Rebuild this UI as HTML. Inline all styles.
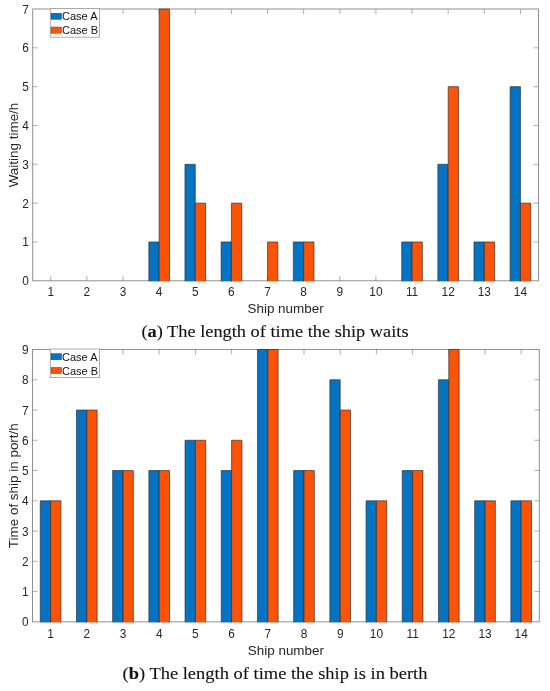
<!DOCTYPE html>
<html><head><meta charset="utf-8"><title>Figure</title>
<style>
html,body{margin:0;padding:0;background:#fff;}
body{width:550px;height:691px;overflow:hidden;position:relative;}
svg{position:absolute;left:0;top:0;display:block}
.t{font-family:"Liberation Sans",Arial,sans-serif;font-size:11.85px;fill:#262626;}
.b{font-size:13.45px}
.l{font-family:"Liberation Sans",Arial,sans-serif;font-size:11px;fill:#111;}
.cap{position:absolute;left:0;width:550px;text-align:center;font-family:"Liberation Serif","Times New Roman",serif;font-size:17px;color:#111;white-space:nowrap;line-height:20px;-webkit-text-stroke:0.1px #111;transform-origin:275px 0;}
</style></head><body>
<svg width="550" height="691" viewBox="0 0 550 691">
<rect x="32.70" y="9.00" width="505.80" height="271.80" fill="none" stroke="#858585" stroke-width="0.9"/>
<path d="M50.76 280.80v-5M50.76 9.00v5" stroke="#777" stroke-width="0.6"/>
<path d="M86.89 280.80v-5M86.89 9.00v5" stroke="#777" stroke-width="0.6"/>
<path d="M123.02 280.80v-5M123.02 9.00v5" stroke="#777" stroke-width="0.6"/>
<path d="M159.15 280.80v-5M159.15 9.00v5" stroke="#777" stroke-width="0.6"/>
<path d="M195.28 280.80v-5M195.28 9.00v5" stroke="#777" stroke-width="0.6"/>
<path d="M231.41 280.80v-5M231.41 9.00v5" stroke="#777" stroke-width="0.6"/>
<path d="M267.54 280.80v-5M267.54 9.00v5" stroke="#777" stroke-width="0.6"/>
<path d="M303.66 280.80v-5M303.66 9.00v5" stroke="#777" stroke-width="0.6"/>
<path d="M339.79 280.80v-5M339.79 9.00v5" stroke="#777" stroke-width="0.6"/>
<path d="M375.92 280.80v-5M375.92 9.00v5" stroke="#777" stroke-width="0.6"/>
<path d="M412.05 280.80v-5M412.05 9.00v5" stroke="#777" stroke-width="0.6"/>
<path d="M448.18 280.80v-5M448.18 9.00v5" stroke="#777" stroke-width="0.6"/>
<path d="M484.31 280.80v-5M484.31 9.00v5" stroke="#777" stroke-width="0.6"/>
<path d="M520.44 280.80v-5M520.44 9.00v5" stroke="#777" stroke-width="0.6"/>
<path d="M32.70 241.97h5M538.50 241.97h-5" stroke="#777" stroke-width="0.6"/>
<path d="M32.70 203.14h5M538.50 203.14h-5" stroke="#777" stroke-width="0.6"/>
<path d="M32.70 164.31h5M538.50 164.31h-5" stroke="#777" stroke-width="0.6"/>
<path d="M32.70 125.49h5M538.50 125.49h-5" stroke="#777" stroke-width="0.6"/>
<path d="M32.70 86.66h5M538.50 86.66h-5" stroke="#777" stroke-width="0.6"/>
<path d="M32.70 47.83h5M538.50 47.83h-5" stroke="#777" stroke-width="0.6"/>
<rect x="148.83" y="241.97" width="10.32" height="39.28" fill="#0473C3"/>
<path d="M148.83 281.25V241.97H159.15V281.25" fill="none" stroke="#2a2a2a" stroke-width="0.65"/>
<rect x="159.15" y="9.00" width="10.32" height="272.25" fill="#FB5409"/>
<path d="M159.15 281.25V9.00H169.47V281.25" fill="none" stroke="#2a2a2a" stroke-width="0.65"/>
<rect x="184.96" y="164.31" width="10.32" height="116.94" fill="#0473C3"/>
<path d="M184.96 281.25V164.31H195.28V281.25" fill="none" stroke="#2a2a2a" stroke-width="0.65"/>
<rect x="195.28" y="203.14" width="10.32" height="78.11" fill="#FB5409"/>
<path d="M195.28 281.25V203.14H205.60V281.25" fill="none" stroke="#2a2a2a" stroke-width="0.65"/>
<rect x="221.08" y="241.97" width="10.32" height="39.28" fill="#0473C3"/>
<path d="M221.08 281.25V241.97H231.41V281.25" fill="none" stroke="#2a2a2a" stroke-width="0.65"/>
<rect x="231.41" y="203.14" width="10.32" height="78.11" fill="#FB5409"/>
<path d="M231.41 281.25V203.14H241.73V281.25" fill="none" stroke="#2a2a2a" stroke-width="0.65"/>
<rect x="267.54" y="241.97" width="10.32" height="39.28" fill="#FB5409"/>
<path d="M267.54 281.25V241.97H277.86V281.25" fill="none" stroke="#2a2a2a" stroke-width="0.65"/>
<rect x="293.34" y="241.97" width="10.32" height="39.28" fill="#0473C3"/>
<path d="M293.34 281.25V241.97H303.66V281.25" fill="none" stroke="#2a2a2a" stroke-width="0.65"/>
<rect x="303.66" y="241.97" width="10.32" height="39.28" fill="#FB5409"/>
<path d="M303.66 281.25V241.97H313.99V281.25" fill="none" stroke="#2a2a2a" stroke-width="0.65"/>
<rect x="401.73" y="241.97" width="10.32" height="39.28" fill="#0473C3"/>
<path d="M401.73 281.25V241.97H412.05V281.25" fill="none" stroke="#2a2a2a" stroke-width="0.65"/>
<rect x="412.05" y="241.97" width="10.32" height="39.28" fill="#FB5409"/>
<path d="M412.05 281.25V241.97H422.37V281.25" fill="none" stroke="#2a2a2a" stroke-width="0.65"/>
<rect x="437.86" y="164.31" width="10.32" height="116.94" fill="#0473C3"/>
<path d="M437.86 281.25V164.31H448.18V281.25" fill="none" stroke="#2a2a2a" stroke-width="0.65"/>
<rect x="448.18" y="86.66" width="10.32" height="194.59" fill="#FB5409"/>
<path d="M448.18 281.25V86.66H458.50V281.25" fill="none" stroke="#2a2a2a" stroke-width="0.65"/>
<rect x="473.98" y="241.97" width="10.32" height="39.28" fill="#0473C3"/>
<path d="M473.98 281.25V241.97H484.31V281.25" fill="none" stroke="#2a2a2a" stroke-width="0.65"/>
<rect x="484.31" y="241.97" width="10.32" height="39.28" fill="#FB5409"/>
<path d="M484.31 281.25V241.97H494.63V281.25" fill="none" stroke="#2a2a2a" stroke-width="0.65"/>
<rect x="510.11" y="86.66" width="10.32" height="194.59" fill="#0473C3"/>
<path d="M510.11 281.25V86.66H520.44V281.25" fill="none" stroke="#2a2a2a" stroke-width="0.65"/>
<rect x="520.44" y="203.14" width="10.32" height="78.11" fill="#FB5409"/>
<path d="M520.44 281.25V203.14H530.76V281.25" fill="none" stroke="#2a2a2a" stroke-width="0.65"/>
<text x="50.76" y="295.90" text-anchor="middle" class="t">1</text>
<text x="86.89" y="295.90" text-anchor="middle" class="t">2</text>
<text x="123.02" y="295.90" text-anchor="middle" class="t">3</text>
<text x="159.15" y="295.90" text-anchor="middle" class="t">4</text>
<text x="195.28" y="295.90" text-anchor="middle" class="t">5</text>
<text x="231.41" y="295.90" text-anchor="middle" class="t">6</text>
<text x="267.54" y="295.90" text-anchor="middle" class="t">7</text>
<text x="303.66" y="295.90" text-anchor="middle" class="t">8</text>
<text x="339.79" y="295.90" text-anchor="middle" class="t">9</text>
<text x="375.92" y="295.90" text-anchor="middle" class="t">10</text>
<text x="412.05" y="295.90" text-anchor="middle" class="t">11</text>
<text x="448.18" y="295.90" text-anchor="middle" class="t">12</text>
<text x="484.31" y="295.90" text-anchor="middle" class="t">13</text>
<text x="520.44" y="295.90" text-anchor="middle" class="t">14</text>
<text x="28.90" y="285.30" text-anchor="end" class="t">0</text>
<text x="28.90" y="246.47" text-anchor="end" class="t">1</text>
<text x="28.90" y="207.64" text-anchor="end" class="t">2</text>
<text x="28.90" y="168.81" text-anchor="end" class="t">3</text>
<text x="28.90" y="129.99" text-anchor="end" class="t">4</text>
<text x="28.90" y="91.16" text-anchor="end" class="t">5</text>
<text x="28.90" y="52.33" text-anchor="end" class="t">6</text>
<text x="28.90" y="13.50" text-anchor="end" class="t">7</text>
<text x="285.60" y="312.90" text-anchor="middle" class="t b">Ship number</text>
<text transform="translate(18.1,145.00) rotate(-90)" text-anchor="middle" class="t b">Waiting time/h</text>
<rect x="50.3" y="8.6" width="49.3" height="28.6" fill="#fff" stroke="#9c9c9c" stroke-width="0.8"/>
<rect x="51.00" y="13.20" width="10.5" height="6.2" fill="#0473C3" stroke="#333" stroke-width="0.4"/>
<text x="62.00" y="20.40" class="l">Case A</text>
<rect x="51.00" y="27.00" width="10.5" height="6.2" fill="#FB5409" stroke="#333" stroke-width="0.4"/>
<text x="62.00" y="34.20" class="l">Case B</text>
<rect x="32.50" y="349.50" width="506.80" height="272.35" fill="none" stroke="#858585" stroke-width="0.9"/>
<path d="M50.60 621.85v-5M50.60 349.50v5" stroke="#777" stroke-width="0.6"/>
<path d="M86.80 621.85v-5M86.80 349.50v5" stroke="#777" stroke-width="0.6"/>
<path d="M123.00 621.85v-5M123.00 349.50v5" stroke="#777" stroke-width="0.6"/>
<path d="M159.20 621.85v-5M159.20 349.50v5" stroke="#777" stroke-width="0.6"/>
<path d="M195.40 621.85v-5M195.40 349.50v5" stroke="#777" stroke-width="0.6"/>
<path d="M231.60 621.85v-5M231.60 349.50v5" stroke="#777" stroke-width="0.6"/>
<path d="M267.80 621.85v-5M267.80 349.50v5" stroke="#777" stroke-width="0.6"/>
<path d="M304.00 621.85v-5M304.00 349.50v5" stroke="#777" stroke-width="0.6"/>
<path d="M340.20 621.85v-5M340.20 349.50v5" stroke="#777" stroke-width="0.6"/>
<path d="M376.40 621.85v-5M376.40 349.50v5" stroke="#777" stroke-width="0.6"/>
<path d="M412.60 621.85v-5M412.60 349.50v5" stroke="#777" stroke-width="0.6"/>
<path d="M448.80 621.85v-5M448.80 349.50v5" stroke="#777" stroke-width="0.6"/>
<path d="M485.00 621.85v-5M485.00 349.50v5" stroke="#777" stroke-width="0.6"/>
<path d="M521.20 621.85v-5M521.20 349.50v5" stroke="#777" stroke-width="0.6"/>
<path d="M32.50 591.59h5M539.30 591.59h-5" stroke="#777" stroke-width="0.6"/>
<path d="M32.50 561.33h5M539.30 561.33h-5" stroke="#777" stroke-width="0.6"/>
<path d="M32.50 531.07h5M539.30 531.07h-5" stroke="#777" stroke-width="0.6"/>
<path d="M32.50 500.81h5M539.30 500.81h-5" stroke="#777" stroke-width="0.6"/>
<path d="M32.50 470.54h5M539.30 470.54h-5" stroke="#777" stroke-width="0.6"/>
<path d="M32.50 440.28h5M539.30 440.28h-5" stroke="#777" stroke-width="0.6"/>
<path d="M32.50 410.02h5M539.30 410.02h-5" stroke="#777" stroke-width="0.6"/>
<path d="M32.50 379.76h5M539.30 379.76h-5" stroke="#777" stroke-width="0.6"/>
<rect x="40.26" y="500.81" width="10.34" height="121.49" fill="#0473C3"/>
<path d="M40.26 622.30V500.81H50.60V622.30" fill="none" stroke="#2a2a2a" stroke-width="0.65"/>
<rect x="50.60" y="500.81" width="10.34" height="121.49" fill="#FB5409"/>
<path d="M50.60 622.30V500.81H60.94V622.30" fill="none" stroke="#2a2a2a" stroke-width="0.65"/>
<rect x="76.46" y="410.02" width="10.34" height="212.28" fill="#0473C3"/>
<path d="M76.46 622.30V410.02H86.80V622.30" fill="none" stroke="#2a2a2a" stroke-width="0.65"/>
<rect x="86.80" y="410.02" width="10.34" height="212.28" fill="#FB5409"/>
<path d="M86.80 622.30V410.02H97.14V622.30" fill="none" stroke="#2a2a2a" stroke-width="0.65"/>
<rect x="112.66" y="470.54" width="10.34" height="151.76" fill="#0473C3"/>
<path d="M112.66 622.30V470.54H123.00V622.30" fill="none" stroke="#2a2a2a" stroke-width="0.65"/>
<rect x="123.00" y="470.54" width="10.34" height="151.76" fill="#FB5409"/>
<path d="M123.00 622.30V470.54H133.34V622.30" fill="none" stroke="#2a2a2a" stroke-width="0.65"/>
<rect x="148.86" y="470.54" width="10.34" height="151.76" fill="#0473C3"/>
<path d="M148.86 622.30V470.54H159.20V622.30" fill="none" stroke="#2a2a2a" stroke-width="0.65"/>
<rect x="159.20" y="470.54" width="10.34" height="151.76" fill="#FB5409"/>
<path d="M159.20 622.30V470.54H169.54V622.30" fill="none" stroke="#2a2a2a" stroke-width="0.65"/>
<rect x="185.06" y="440.28" width="10.34" height="182.02" fill="#0473C3"/>
<path d="M185.06 622.30V440.28H195.40V622.30" fill="none" stroke="#2a2a2a" stroke-width="0.65"/>
<rect x="195.40" y="440.28" width="10.34" height="182.02" fill="#FB5409"/>
<path d="M195.40 622.30V440.28H205.74V622.30" fill="none" stroke="#2a2a2a" stroke-width="0.65"/>
<rect x="221.26" y="470.54" width="10.34" height="151.76" fill="#0473C3"/>
<path d="M221.26 622.30V470.54H231.60V622.30" fill="none" stroke="#2a2a2a" stroke-width="0.65"/>
<rect x="231.60" y="440.28" width="10.34" height="182.02" fill="#FB5409"/>
<path d="M231.60 622.30V440.28H241.94V622.30" fill="none" stroke="#2a2a2a" stroke-width="0.65"/>
<rect x="257.46" y="349.50" width="10.34" height="272.80" fill="#0473C3"/>
<path d="M257.46 622.30V349.50H267.80V622.30" fill="none" stroke="#2a2a2a" stroke-width="0.65"/>
<rect x="267.80" y="349.50" width="10.34" height="272.80" fill="#FB5409"/>
<path d="M267.80 622.30V349.50H278.14V622.30" fill="none" stroke="#2a2a2a" stroke-width="0.65"/>
<rect x="293.66" y="470.54" width="10.34" height="151.76" fill="#0473C3"/>
<path d="M293.66 622.30V470.54H304.00V622.30" fill="none" stroke="#2a2a2a" stroke-width="0.65"/>
<rect x="304.00" y="470.54" width="10.34" height="151.76" fill="#FB5409"/>
<path d="M304.00 622.30V470.54H314.34V622.30" fill="none" stroke="#2a2a2a" stroke-width="0.65"/>
<rect x="329.86" y="379.76" width="10.34" height="242.54" fill="#0473C3"/>
<path d="M329.86 622.30V379.76H340.20V622.30" fill="none" stroke="#2a2a2a" stroke-width="0.65"/>
<rect x="340.20" y="410.02" width="10.34" height="212.28" fill="#FB5409"/>
<path d="M340.20 622.30V410.02H350.54V622.30" fill="none" stroke="#2a2a2a" stroke-width="0.65"/>
<rect x="366.06" y="500.81" width="10.34" height="121.49" fill="#0473C3"/>
<path d="M366.06 622.30V500.81H376.40V622.30" fill="none" stroke="#2a2a2a" stroke-width="0.65"/>
<rect x="376.40" y="500.81" width="10.34" height="121.49" fill="#FB5409"/>
<path d="M376.40 622.30V500.81H386.74V622.30" fill="none" stroke="#2a2a2a" stroke-width="0.65"/>
<rect x="402.26" y="470.54" width="10.34" height="151.76" fill="#0473C3"/>
<path d="M402.26 622.30V470.54H412.60V622.30" fill="none" stroke="#2a2a2a" stroke-width="0.65"/>
<rect x="412.60" y="470.54" width="10.34" height="151.76" fill="#FB5409"/>
<path d="M412.60 622.30V470.54H422.94V622.30" fill="none" stroke="#2a2a2a" stroke-width="0.65"/>
<rect x="438.46" y="379.76" width="10.34" height="242.54" fill="#0473C3"/>
<path d="M438.46 622.30V379.76H448.80V622.30" fill="none" stroke="#2a2a2a" stroke-width="0.65"/>
<rect x="448.80" y="349.50" width="10.34" height="272.80" fill="#FB5409"/>
<path d="M448.80 622.30V349.50H459.14V622.30" fill="none" stroke="#2a2a2a" stroke-width="0.65"/>
<rect x="474.66" y="500.81" width="10.34" height="121.49" fill="#0473C3"/>
<path d="M474.66 622.30V500.81H485.00V622.30" fill="none" stroke="#2a2a2a" stroke-width="0.65"/>
<rect x="485.00" y="500.81" width="10.34" height="121.49" fill="#FB5409"/>
<path d="M485.00 622.30V500.81H495.34V622.30" fill="none" stroke="#2a2a2a" stroke-width="0.65"/>
<rect x="510.86" y="500.81" width="10.34" height="121.49" fill="#0473C3"/>
<path d="M510.86 622.30V500.81H521.20V622.30" fill="none" stroke="#2a2a2a" stroke-width="0.65"/>
<rect x="521.20" y="500.81" width="10.34" height="121.49" fill="#FB5409"/>
<path d="M521.20 622.30V500.81H531.54V622.30" fill="none" stroke="#2a2a2a" stroke-width="0.65"/>
<text x="50.60" y="637.95" text-anchor="middle" class="t">1</text>
<text x="86.80" y="637.95" text-anchor="middle" class="t">2</text>
<text x="123.00" y="637.95" text-anchor="middle" class="t">3</text>
<text x="159.20" y="637.95" text-anchor="middle" class="t">4</text>
<text x="195.40" y="637.95" text-anchor="middle" class="t">5</text>
<text x="231.60" y="637.95" text-anchor="middle" class="t">6</text>
<text x="267.80" y="637.95" text-anchor="middle" class="t">7</text>
<text x="304.00" y="637.95" text-anchor="middle" class="t">8</text>
<text x="340.20" y="637.95" text-anchor="middle" class="t">9</text>
<text x="376.40" y="637.95" text-anchor="middle" class="t">10</text>
<text x="412.60" y="637.95" text-anchor="middle" class="t">11</text>
<text x="448.80" y="637.95" text-anchor="middle" class="t">12</text>
<text x="485.00" y="637.95" text-anchor="middle" class="t">13</text>
<text x="521.20" y="637.95" text-anchor="middle" class="t">14</text>
<text x="28.70" y="626.35" text-anchor="end" class="t">0</text>
<text x="28.70" y="596.09" text-anchor="end" class="t">1</text>
<text x="28.70" y="565.83" text-anchor="end" class="t">2</text>
<text x="28.70" y="535.57" text-anchor="end" class="t">3</text>
<text x="28.70" y="505.31" text-anchor="end" class="t">4</text>
<text x="28.70" y="475.04" text-anchor="end" class="t">5</text>
<text x="28.70" y="444.78" text-anchor="end" class="t">6</text>
<text x="28.70" y="414.52" text-anchor="end" class="t">7</text>
<text x="28.70" y="384.26" text-anchor="end" class="t">8</text>
<text x="28.70" y="354.00" text-anchor="end" class="t">9</text>
<text x="285.90" y="654.75" text-anchor="middle" class="t b">Ship number</text>
<text transform="translate(18.1,485.70) rotate(-90)" text-anchor="middle" class="t b">Time of ship in port/h</text>
<rect x="50.3" y="349.0" width="49.3" height="28.6" fill="#fff" stroke="#9c9c9c" stroke-width="0.8"/>
<rect x="51.00" y="353.60" width="10.5" height="6.2" fill="#0473C3" stroke="#333" stroke-width="0.4"/>
<text x="62.00" y="360.80" class="l">Case A</text>
<rect x="51.00" y="367.40" width="10.5" height="6.2" fill="#FB5409" stroke="#333" stroke-width="0.4"/>
<text x="62.00" y="374.60" class="l">Case B</text>
</svg>
<div class="cap" id="capa" style="top:321.3px;transform:translateY(0.9px) scaleX(1.079)">(<b>a</b>) The length of time the ship waits</div>
<div class="cap" id="capb" style="top:663.2px;transform:translateY(0.6px) scaleX(1.0867)">(<b>b</b>) The length of time the ship is in berth</div>
</body></html>
